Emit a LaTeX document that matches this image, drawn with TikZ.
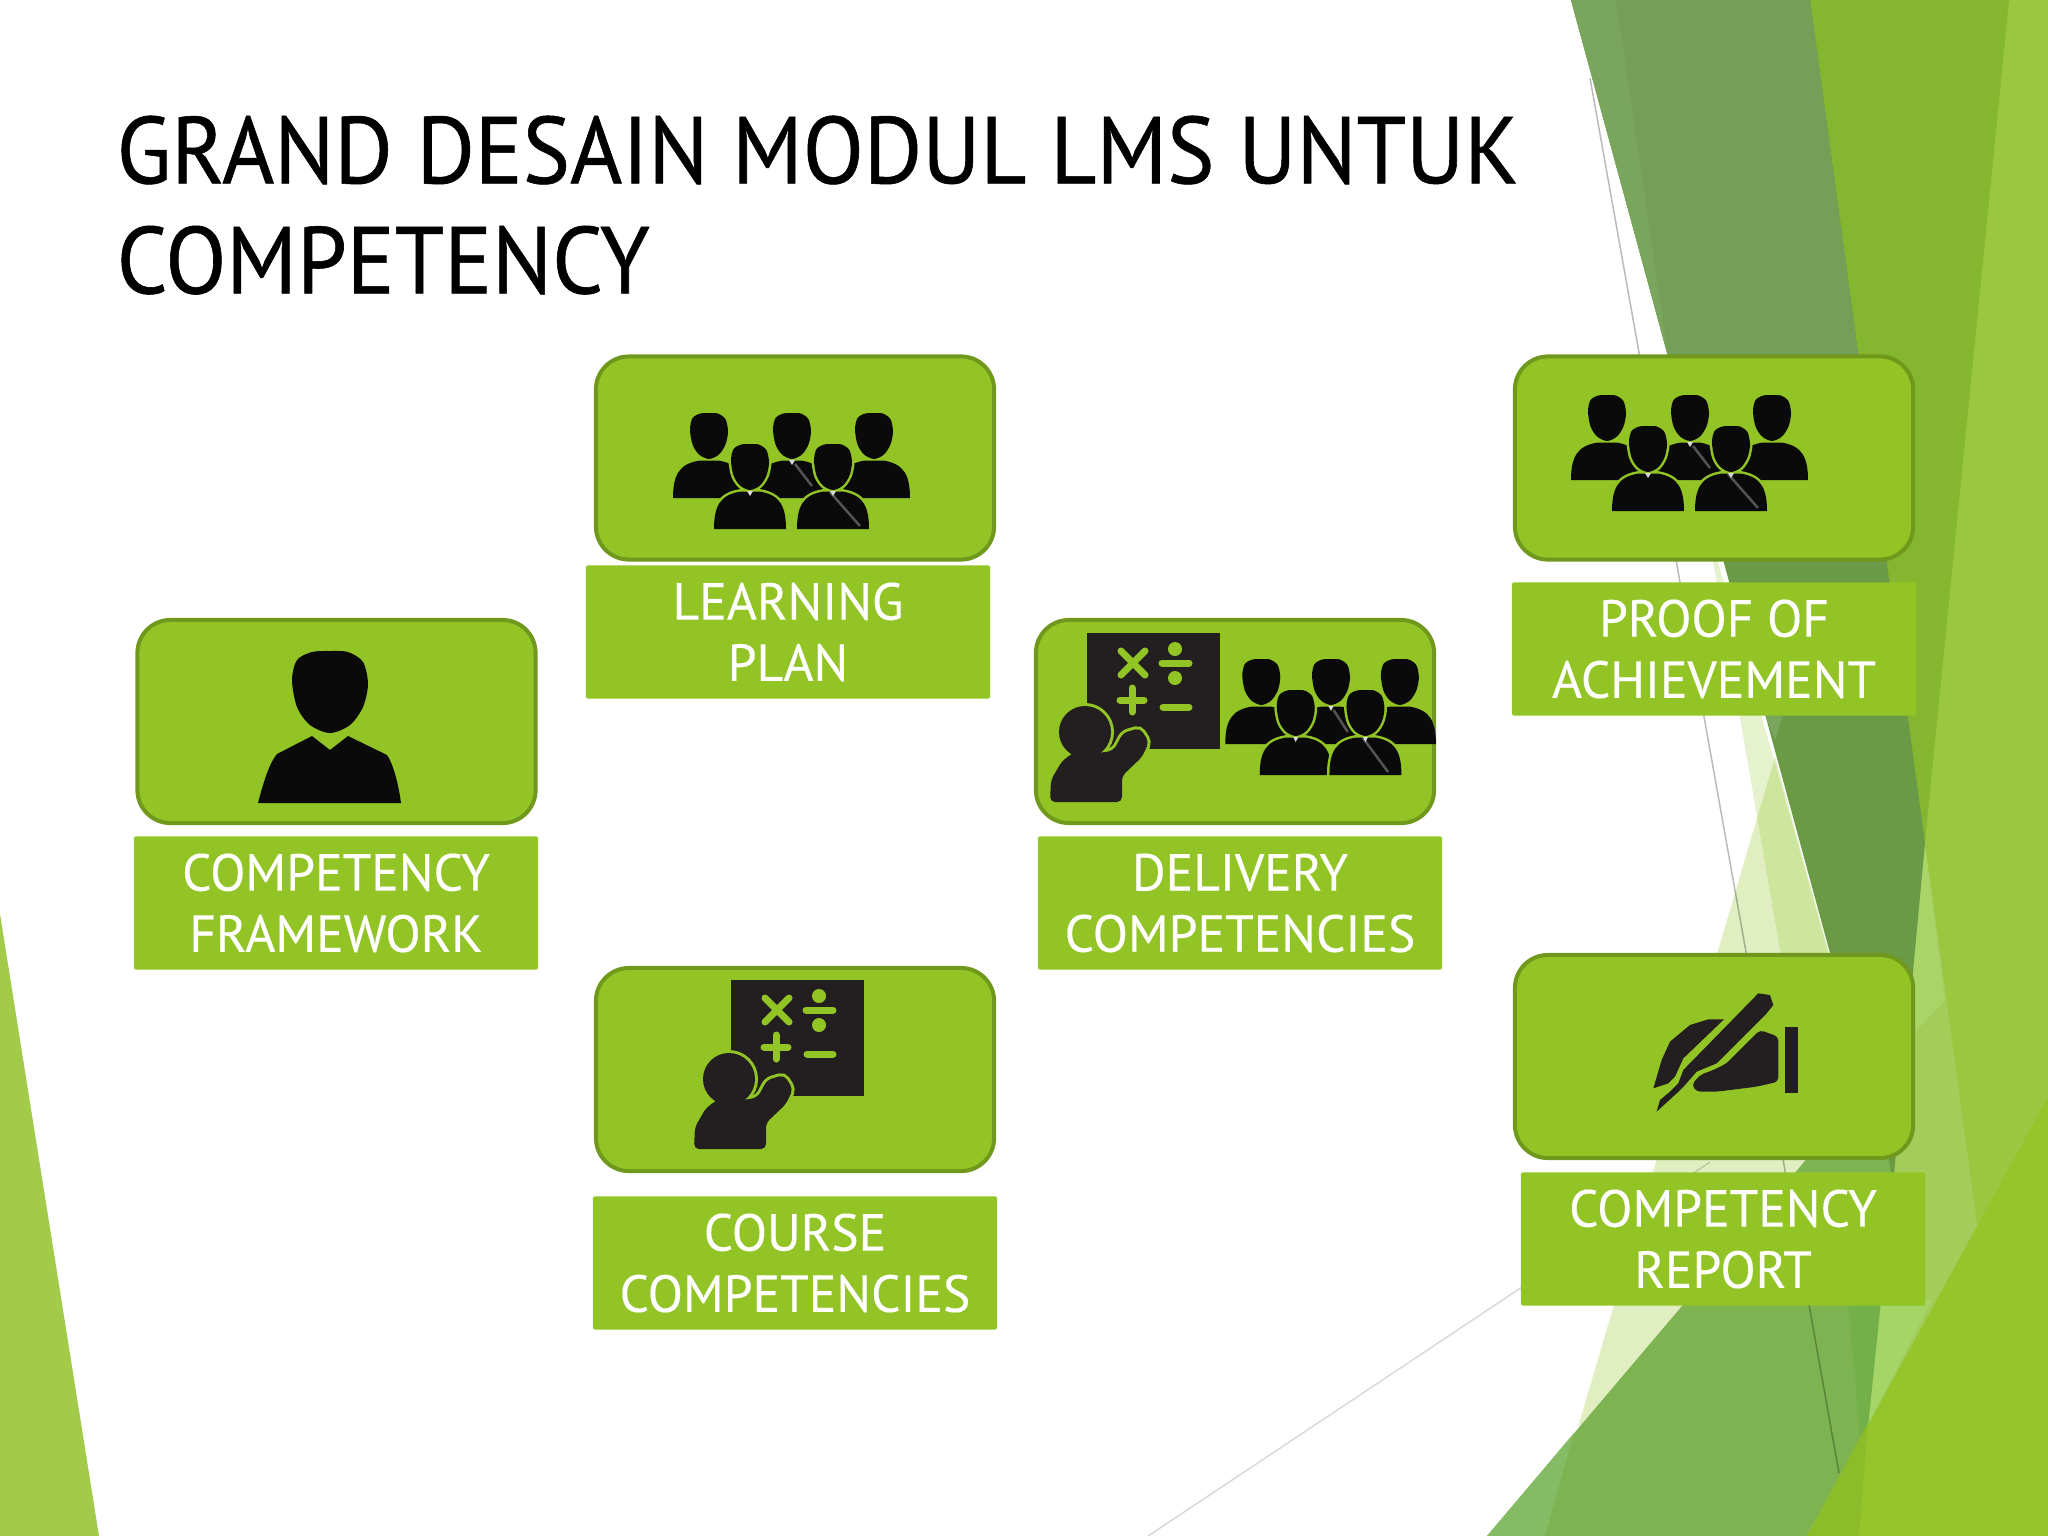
\documentclass[tikz,border=0pt]{standalone}
\usepackage{fontspec}
\setmainfont{PT Sans}
\newfontfamily\titlefont[FakeStretch=.94,FakeBold=.6]{PT Sans}
\newfontfamily\labelfont[FakeStretch=.99,FakeBold=.3]{PT Sans}

\definecolor{boxgreen}{HTML}{92C426}
\definecolor{boxedge}{HTML}{6F981C}
\definecolor{iconblack}{HTML}{0A0A0A}
\definecolor{boardblack}{HTML}{231F20}
\definecolor{palegreen}{HTML}{8FC31F}
\definecolor{rearband}{HTML}{85B62F}
\definecolor{dullgreen}{HTML}{759E56}
\definecolor{dulledge}{HTML}{7AA55D}
\definecolor{darkgreen}{HTML}{6A9A46}
\definecolor{lightpanel}{HTML}{9AC73F}
\definecolor{softpanel}{HTML}{A3CC5B}
\definecolor{softtop}{HTML}{A8D468}
\definecolor{softlow}{HTML}{A6D567}
\definecolor{lowgreen}{HTML}{7DB451}
\definecolor{lowedge}{HTML}{85BB64}
\definecolor{lowdark}{HTML}{74B04A}
\definecolor{brightgreen}{HTML}{95C42B}
\definecolor{brightedge}{HTML}{8BBD2B}
\definecolor{cornergreen}{HTML}{A2CB4A}

\tikzset{
  iconbox/.style={draw=boxedge, fill=boxgreen, line width=.04cm, rounded corners=.33cm,
    minimum width=3.98cm, minimum height=2.03cm, inner sep=0pt},
  labelbox/.style={fill=boxgreen, rounded corners=.02cm, minimum width=4.04cm, minimum height=1.33cm,
    inner sep=0pt, text=white, align=center, font=\labelfont\fontsize{14.8}{17.4}\selectfont,
    execute at begin node={\rule{0pt}{13pt}}},
  titletext/.style={anchor=north west, inner sep=0pt, align=left, text=black,
    font=\titlefont\fontsize{27}{31.3}\selectfont},
  glint/.style={draw=white, opacity=.3, line width=.025cm},
  pics/person/.style={code={
    \fill[iconblack] (-72,111) .. controls (-66,88) and (-60,70) .. (-53,62) -- (-18,44) -- (0,58) -- (18,44)
      -- (57,63) .. controls (62,70) and (68,88) .. (71,111) -- cycle;
    \fill[iconblack] plot[smooth cycle] coordinates {(-38,-12) (-33,-32) (-18,-40) (0,-41) (18,-40)
      (33,-30) (38,-8) (33,15) (20,33) (0,41) (-20,33) (-33,15)};
  }},
  pics/member/.style={code={
    \path[draw=#1, line width=.05cm] (-72,111) .. controls (-72,70) and (-60,50) .. (-20,44) -- (20,44)
      .. controls (60,50) and (72,70) .. (72,111) -- cycle;
    \path[draw=#1, line width=.05cm] plot[smooth cycle] coordinates {(-38,-12) (-33,-32) (-18,-40) (0,-41) (18,-40)
      (33,-30) (38,-8) (33,15) (20,33) (0,41) (-20,33) (-33,15)};
    \fill[iconblack] (-72,111) .. controls (-72,70) and (-60,50) .. (-20,44) -- (20,44)
      .. controls (60,50) and (72,70) .. (72,111) -- cycle;
    \fill[iconblack] plot[smooth cycle] coordinates {(-38,-12) (-33,-32) (-18,-40) (0,-41) (18,-40)
      (33,-30) (38,-8) (33,15) (20,33) (0,41) (-20,33) (-33,15)};
  }},
  pics/crowd/.style={code={
    \pic[xscale=.5, yscale=.56] at (-83,0) {member=none};
    \pic[xscale=.5, yscale=.56] at (0,0) {member=none};
    \pic[xscale=.5, yscale=.56] at (82,0) {member=none};
    \draw[glint] (3,28) -- (20,50);
    \fill[white!85!black] (-3,24) -- (3,24) -- (0,29) -- cycle;
    \pic[xscale=.5, yscale=.56] at (-42,31) {member=boxgreen};
    \pic[xscale=.5, yscale=.56] at (41,31) {member=boxgreen};
    \draw[glint] (38,56) -- (68,90);
    \fill[white!85!black] (-45,55) -- (-39,55) -- (-42,60) -- cycle;
    \fill[white!85!black] (38,55) -- (44,55) -- (41,60) -- cycle;
  }},
  pics/tutor/.style={code={
    \fill[boardblack] (0,0) rectangle (133,116);
    % Signs
    \draw[boxgreen, line width=.07cm, line cap=round] (34,18) -- (58,42) (34,42) -- (58,18);
    \draw[boxgreen, line width=.07cm, line cap=round] (75,30) -- (102,30);
    \fill[boxgreen] (88,16) circle (7) (88,45) circle (7);
    \draw[boxgreen, line width=.07cm, line cap=round] (33,67) -- (57,67) (45,55) -- (45,79);
    \draw[boxgreen, line width=.07cm, line cap=round] (76,74) -- (102,74);
    % Teacher
    \path[draw=boxgreen, line width=.06cm] (-2,99) circle (26);
    \path[draw=boxgreen, line width=.06cm, rounded corners=.05cm] (-37,169) -- (-36,147) -- (-25,128) -- (-7,115) -- (15,120)
      -- (27,117) -- (36,100) -- (53,95) -- (62,109) -- (55,124) -- (35,143) -- (35,169) -- cycle;
    \fill[boardblack, rounded corners=.05cm] (-37,169) -- (-36,147) -- (-25,128) -- (-7,115) -- (15,120)
      -- (27,117) -- (36,100) -- (53,95) -- (62,109) -- (55,124) -- (35,143) -- (35,169) -- cycle;
    \fill[boardblack] (-2,99) circle (26);
  }},
  pics/signing/.style={code={
    \fill[boardblack] (775,130) -- (810,135) -- (820,165) -- (800,190) -- (650,340) -- (590,365) -- (555,405) -- (530,430)
      -- (470,485) -- (480,450) -- (510,425) -- (535,400) -- (550,360) -- cycle;
    \fill[boardblack] (460,415) -- (485,330) -- (510,275) -- (570,225) -- (625,208) -- (672,208) -- (550,325) -- (525,380)
      -- (505,400) -- cycle;
    \fill[boardblack, rounded corners=.04cm] (780,240) -- (835,260) -- (835,395) -- (770,410) -- (650,425) -- (590,425) -- (575,405) -- (600,375)
      -- (640,360) -- (680,340) -- cycle;
    \fill[boardblack] (855,230) rectangle (895,430);
  }},
}

\begin{document}
\begin{tikzpicture}[x=.01cm, y=-.01cm]
\useasboundingbox (0,0) rectangle (2048,1536);

% Background
\fill[cornergreen] (0,914) -- (99,1536) -- (0,1536) -- cycle;
\fill[palegreen, opacity=.22] (1706,520) -- (1835,1270) -- (1890,1170) -- cycle;
\fill[palegreen, opacity=.28] (1775,757) -- (1578,1427) -- (1800,1300) -- (1850,1030) -- cycle;
\fill[rearband] (1790,0) -- (2020,0) -- (1925,860) -- cycle;
\fill[softpanel] (1900,850) -- (1945,850) -- (1995,1230) -- (1900,1450) -- (1850,1420) -- cycle;
\fill[softtop] (1925,843) -- (1945,1000) -- (1917,1030) -- (1895,1030) -- (1905,843) -- cycle;
\fill[softlow] (1860,1300) -- (1932,1300) -- (1868,1425) -- (1850,1425) -- cycle;
\fill[darkgreen] (1571,0) -- (1810,0) -- (1925,843) -- (1893,1185) -- cycle;
\fill[dullgreen] (1571,0) -- (1810,0) -- (1882,530) -- (1716,530) -- cycle;
\fill[dulledge] (1571,0) -- (1616,0) -- (1668,355) -- (1668,400) -- (1680,400) -- cycle;
\fill[dulledge] (1765,715) -- (1783,715) -- (1775,740) -- cycle;
\fill[lightpanel] (2009,0) -- (2048,0) -- (2048,1140) -- (1982,1260) -- (1925,843) -- cycle;
\fill[lowgreen] (1487,1536) -- (1810,1155) -- (1888,1155) -- (1893,1185) -- (1868,1425) -- (1807,1536) -- cycle;
\fill[lowedge] (1487,1536) -- (1545,1536) -- (1574,1433) -- cycle;
\fill[lowdark] (1848,1300) -- (1881,1300) -- (1868,1425) -- (1860,1440) -- cycle;
\draw[black, opacity=.27, line width=.015cm] (1590,78) -- (1839,1473);
\draw[black, opacity=.15, line width=.015cm] (1148,1536) -- (1710,1162);
\fill[brightgreen] (1807,1536) -- (2048,1097) -- (2048,1536) -- cycle;
\fill[brightedge] (1807,1536) -- (1859,1536) -- (1868,1423) -- cycle;

% Title
\node[titletext] (title) at (116,115) {GRAND DESAIN MODUL LMS UNTUK\\COMPETENCY};

% Icon boxes
\node[iconbox] (frameworkicon) at (336.5,721.5) {};
\node[iconbox] (planicon) at (795,458) {};
\node[iconbox] (deliveryicon) at (1235,721.5) {};
\node[iconbox] (courseicon) at (795,1069.5) {};
\node[iconbox] (proofblock) at (1714,458) {};
\node[iconbox] (reporticon) at (1714,1056.5) {};

% Labels
\node[labelbox] (frameworklabel) at (336,903) {COMPETENCY\\FRAMEWORK};
\node[labelbox] (planlabel) at (788,632) {LEARNING\\PLAN};
\node[labelbox] (deliverylabel) at (1240,903) {DELIVERY\\COMPETENCIES};
\node[labelbox] (courselabel) at (795,1263) {COURSE\\COMPETENCIES};
\node[labelbox] (prooflabel) at (1714,649) {PROOF OF\\ACHIEVEMENT};
\node[labelbox] (reportlabel) at (1723,1239) {COMPETENCY\\REPORT};

% Icons
\pic (frameworkman) at (330,692) {person};
\pic (plancrowd) at (792,436) {crowd};
\pic (proofcrowd) at (1690,418) {crowd};
\pic[xscale=.84] (deliverycrowd) at (1331,682) {crowd};
\pic (deliverytutor) at (1087,633) {tutor};
\pic (coursetutor) at (731,980) {tutor};
\pic[scale=.3333] (reportpen) at (1500,950) {signing};

\end{tikzpicture}
\end{document}
